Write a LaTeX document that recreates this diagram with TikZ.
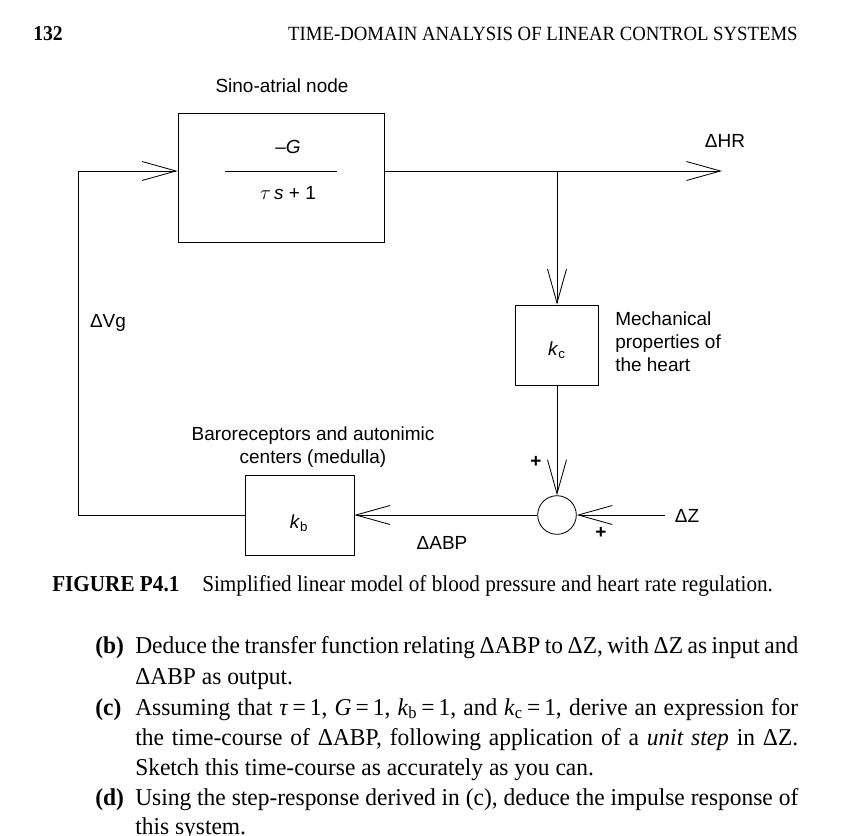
\documentclass[tikz,border=0pt]{standalone}
\usepackage{fontspec}
\setmainfont{Liberation Serif}[FakeStretch=0.93]
\newfontfamily\bodyfont{Liberation Serif}[FakeStretch=0.97]
\setsansfont{Liberation Sans}
\usetikzlibrary{arrows.meta,positioning}
\newlength\pxl
\setlength\pxl{0.025cm}
\newcommand\dlt{\textup{Δ}}

\tikzset{
  block/.style={draw, line width=0.6pt, inner sep=0pt},
  plain/.style={line width=0.6pt},
  flow/.style={line width=0.6pt, -{Straight Barb[length=0.85cm, width=0.475cm]}},
  lab/.style={font=\sffamily\fontsize{13.5}{16.5}\selectfont, inner sep=0pt},
  page/.style={font=\fontsize{14.35}{17}\selectfont, inner sep=0pt, anchor=base west},
  capt/.style={font=\fontsize{16.2}{19}\selectfont, inner sep=0pt, anchor=base west},
  body/.style={font=\bodyfont\fontsize{17.2}{20}\selectfont, inner sep=0pt, anchor=base west},
  item/.style={body, font=\bodyfont\bfseries\fontsize{17.2}{20}\selectfont},
}

\begin{document}
\begin{tikzpicture}[x=0.025cm, y=-0.025cm]
\useasboundingbox (0,0) rectangle (847,835);

% page head
\node[page, font=\bfseries\fontsize{15}{17}\selectfont] (pageno) at (33,40) {132};
\node[page, anchor=base east] (runhead) at (798,40) {TIME-DOMAIN ANALYSIS OF LINEAR CONTROL SYSTEMS};

% blocks
\node[block, minimum width=206\pxl, minimum height=129\pxl] (sa) at (281,177.5) {};
\node[block, minimum width=83\pxl, minimum height=80\pxl] (kc) at (557,345) {};
\node[block, minimum width=109\pxl, minimum height=80\pxl] (kb) at (299.5,515) {};
\node[draw, circle, line width=0.6pt, minimum size=38.6\pxl, inner sep=0pt] (sum) at (557,515) {};

% fraction in the sino-atrial block
\node[lab] (num) at (288,147) {–\textit{G}};
\node[lab] (den) at (288,193) {$\tau$\,\textit{s} + 1};
\draw[plain] (225,171) -- (337,171);
\node[lab] (kcl) at (557,350) {\textit{k}\textsubscript{c}};
\node[lab] (kbl) at (299,523) {\textit{k}\textsubscript{b}};

% corners and free ends
\coordinate (fbtop) at (78,171);
\coordinate (fbbot) at (78,515);
\coordinate (br) at (557,171);
\coordinate (hr) at (722,171);
\coordinate (dz) at (665,515);

% connectors
\draw[flow] (fbtop) -- (fbtop -| sa.west);
\draw[flow] (fbtop -| sa.east) -- (hr);
\draw[flow] (br) -- (kc.north);
\draw[flow] (kc.south) -- (sum.north);
\draw[flow] (dz) -- (sum.east);
\draw[flow] (sum.west) -- (kb.east);
\draw[plain] (kb.west) -- (fbbot) -- (fbtop);

% labels
\node[lab] (satext) at (282,86) {Sino-atrial node};
\node[lab] (hrtext) at (725,141) {\dlt HR};
\node[lab, anchor=north west, align=left] (mech) at (615,311) {Mechanical\\properties of\\the heart};
\node[lab] (vgtext) at (108,323) {\dlt Vg};
\node[lab, align=center] (baro) at (313,447) {Baroreceptors and autonimic\\centers (medulla)};
\node[lab] (plusa) at (536,462) {\textbf{+}};
\node[lab] (plusb) at (601,533) {\textbf{+}};
\node[lab] (dztext) at (687,516) {\dlt Z};
\node[lab] (abptext) at (442,543) {\dlt ABP};

% caption
\node[capt, font=\bfseries\fontsize{16.2}{19}\selectfont] (figno) at (52,591) {FIGURE P4.1};
\node[capt] (figcap) at (202,591) {Simplified linear model of blood pressure and heart rate regulation.};

% questions
\node[item] (qb) at (95,653) {(b)};
\node[body] (qb1) at (135,653) {\makebox[663\pxl][s]{Deduce the transfer function relating ΔABP to ΔZ, with ΔZ as input and}};
\node[body] (qb2) at (135,684) {ΔABP as output.};
\node[item] (qc) at (95,715) {(c)};
\node[body] (qc1) at (135,715) {\makebox[663\pxl][s]{Assuming that \textit{τ}\,=\,1, \textit{G}\,=\,1, \textit{k}\textsubscript{b}\,=\,1, and \textit{k}\textsubscript{c}\,=\,1, derive an expression for}};
\node[body] (qc2) at (135,745) {\makebox[663\pxl][s]{the time-course of ΔABP, following application of a \textit{unit step} in ΔZ.}};
\node[body] (qc3) at (135,775) {Sketch this time-course as accurately as you can.};
\node[item] (qd) at (95,805) {(d)};
\node[body] (qd1) at (135,805) {\makebox[663\pxl][s]{Using the step-response derived in (c), deduce the impulse response of}};
\node[body] (qd2) at (135,834) {this system.};
\end{tikzpicture}
\end{document}
